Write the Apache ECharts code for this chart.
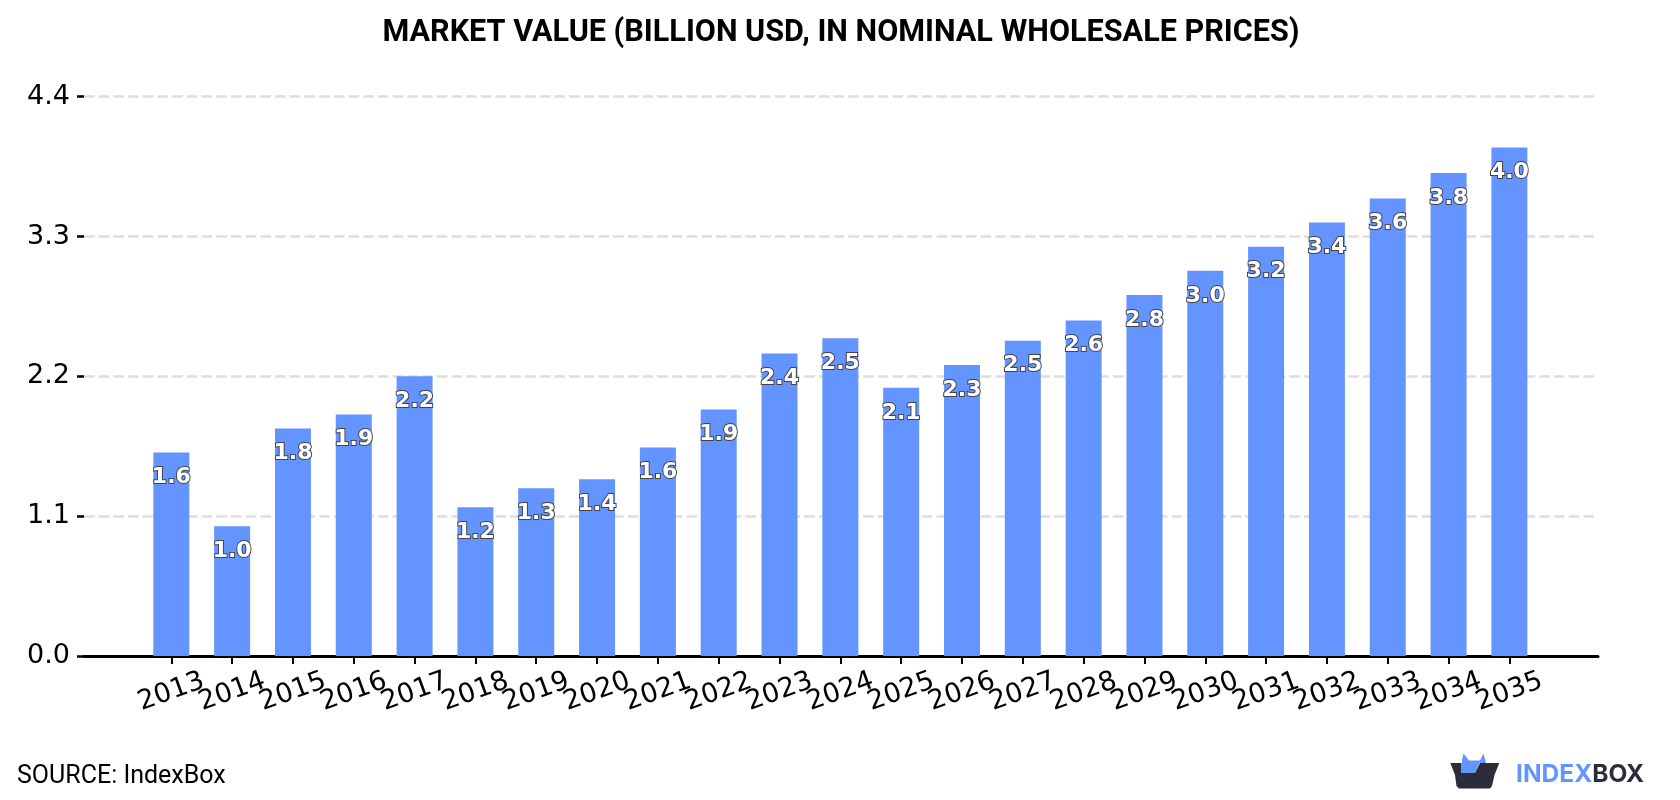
<!DOCTYPE html>
<html>
<head>
<meta charset="utf-8">
<title>Market Value</title>
<script src="https://cdn.jsdelivr.net/npm/echarts@6/dist/echarts.min.js"></script>
<style>html,body{margin:0;padding:0;background:#fff}#chart{width:1680px;height:800px}</style>
</head>
<body>
<div id="chart"></div>
<script>
// Yearly market value, billion USD
const years = ['2013','2014','2015','2016','2017','2018','2019','2020','2021','2022','2023','2024','2025','2026','2027','2028','2029','2030','2031','2032','2033','2034','2035'];
const values = [1.60,1.02,1.79,1.90,2.20,1.17,1.32,1.39,1.64,1.94,2.38,2.50,2.11,2.29,2.48,2.64,2.84,3.03,3.22,3.41,3.60,3.80,4.00];

const BLUE = '#6394ff';
const INK = '#2b2d38';
const Y_MAX = 4.4;
const Y_STEP = 1.1;
const chart = echarts.init(document.getElementById('chart'), null, {renderer: 'canvas'});

chart.setOption({
  animation: false,
  backgroundColor: '#fff',
  title: {
    text: 'MARKET VALUE (BILLION USD, IN NOMINAL WHOLESALE PRICES)',
    left: 836, top: 13, textAlign: 'center',
    textStyle: {fontFamily: 'Roboto', fontWeight: 700, fontSize: 30.6, color: '#000'}
  },
  // Outer frame carries the gridlines and baseline; the inner one holds the bars,
  // leaving the wide empty margins on either side of the first and last year.
  grid: [
    {left: 84, top: 96.7, width: 1514, height: 559.3},
    {left: 140.9, top: 96.7, width: 1398.9, height: 559.3}
  ],
  xAxis: [
    {
      gridIndex: 0, type: 'value', min: 0, max: 1,
      splitLine: {show: false},
      axisLine: {show: true, lineStyle: {color: '#000', width: 3}},
      axisTick: {show: false},
      axisLabel: {show: false}
    },
    {
      gridIndex: 1, type: 'category', data: years,
      axisLine: {show: false},
      axisTick: {show: true, alignWithLabel: true, length: 8, lineStyle: {color: '#000', width: 2}},
      axisLabel: {
        show: true, interval: 0, rotate: 20, margin: 36,
        align: 'center', verticalAlign: 'middle',
        fontFamily: 'DejaVu Sans', fontSize: 27, color: '#000'
      }
    }
  ],
  yAxis: [
    {
      gridIndex: 0, type: 'value', min: 0, max: Y_MAX, interval: Y_STEP,
      axisLine: {show: false},
      axisTick: {show: true, length: 7, lineStyle: {color: '#000', width: 2.5}},
      splitLine: {show: true, lineStyle: {color: '#dedede', width: 2.6, type: [10.5, 4.2]}},
      axisLabel: {
        margin: 14, padding: [0, 0, 6, 0],
        fontFamily: 'DejaVu Sans', fontSize: 27, color: '#000',
        formatter: v => v.toFixed(1)
      }
    },
    {
      gridIndex: 1, type: 'value', min: 0, max: Y_MAX, interval: Y_STEP,
      axisLine: {show: false}, axisTick: {show: false},
      axisLabel: {show: false}, splitLine: {show: false}
    }
  ],
  series: [{
    type: 'bar',
    xAxisIndex: 1, yAxisIndex: 1,
    barWidth: 36,
    data: values,
    itemStyle: {color: BLUE},
    label: {
      show: true, position: 'insideTop', distance: 14,
      fontFamily: 'DejaVu Sans', fontWeight: 700, fontSize: 22,
      color: '#fff', textBorderColor: '#444', textBorderWidth: 2,
      formatter: p => p.value.toFixed(1)
    }
  }],
  graphic: [
    {type: 'text', left: 17, top: 764, style: {text: 'SOURCE: IndexBox', font: '400 25px Roboto', fill: '#000'}},
    // brand mark: open box with a blue crown
    {type: 'polygon', shape: {points: [[1462,773],[1462,760],[1463.5,753.5],[1469,760.5],[1480,760.5],[1483.5,753.5],[1486,763],[1479.5,763],[1475,773]]}, style: {fill: BLUE}},
    {type: 'polygon', shape: {points: [[1450.3,763],[1461.5,763],[1461.5,773],[1475,773],[1480,763],[1499.3,763],[1494.5,775],[1492,786],[1490,788.5],[1459,788.5],[1456.5,786],[1455,775]]}, style: {fill: INK}},
    {type: 'text', left: 1516, top: 762, style: {
      text: '{a|INDEX}{b|BOX}',
      rich: {
        a: {font: '700 24.5px Inter', fill: BLUE, color: BLUE},
        b: {font: '700 24.5px Inter', fill: INK, color: INK}
      }
    }}
  ]
});
</script>
</body>
</html>
